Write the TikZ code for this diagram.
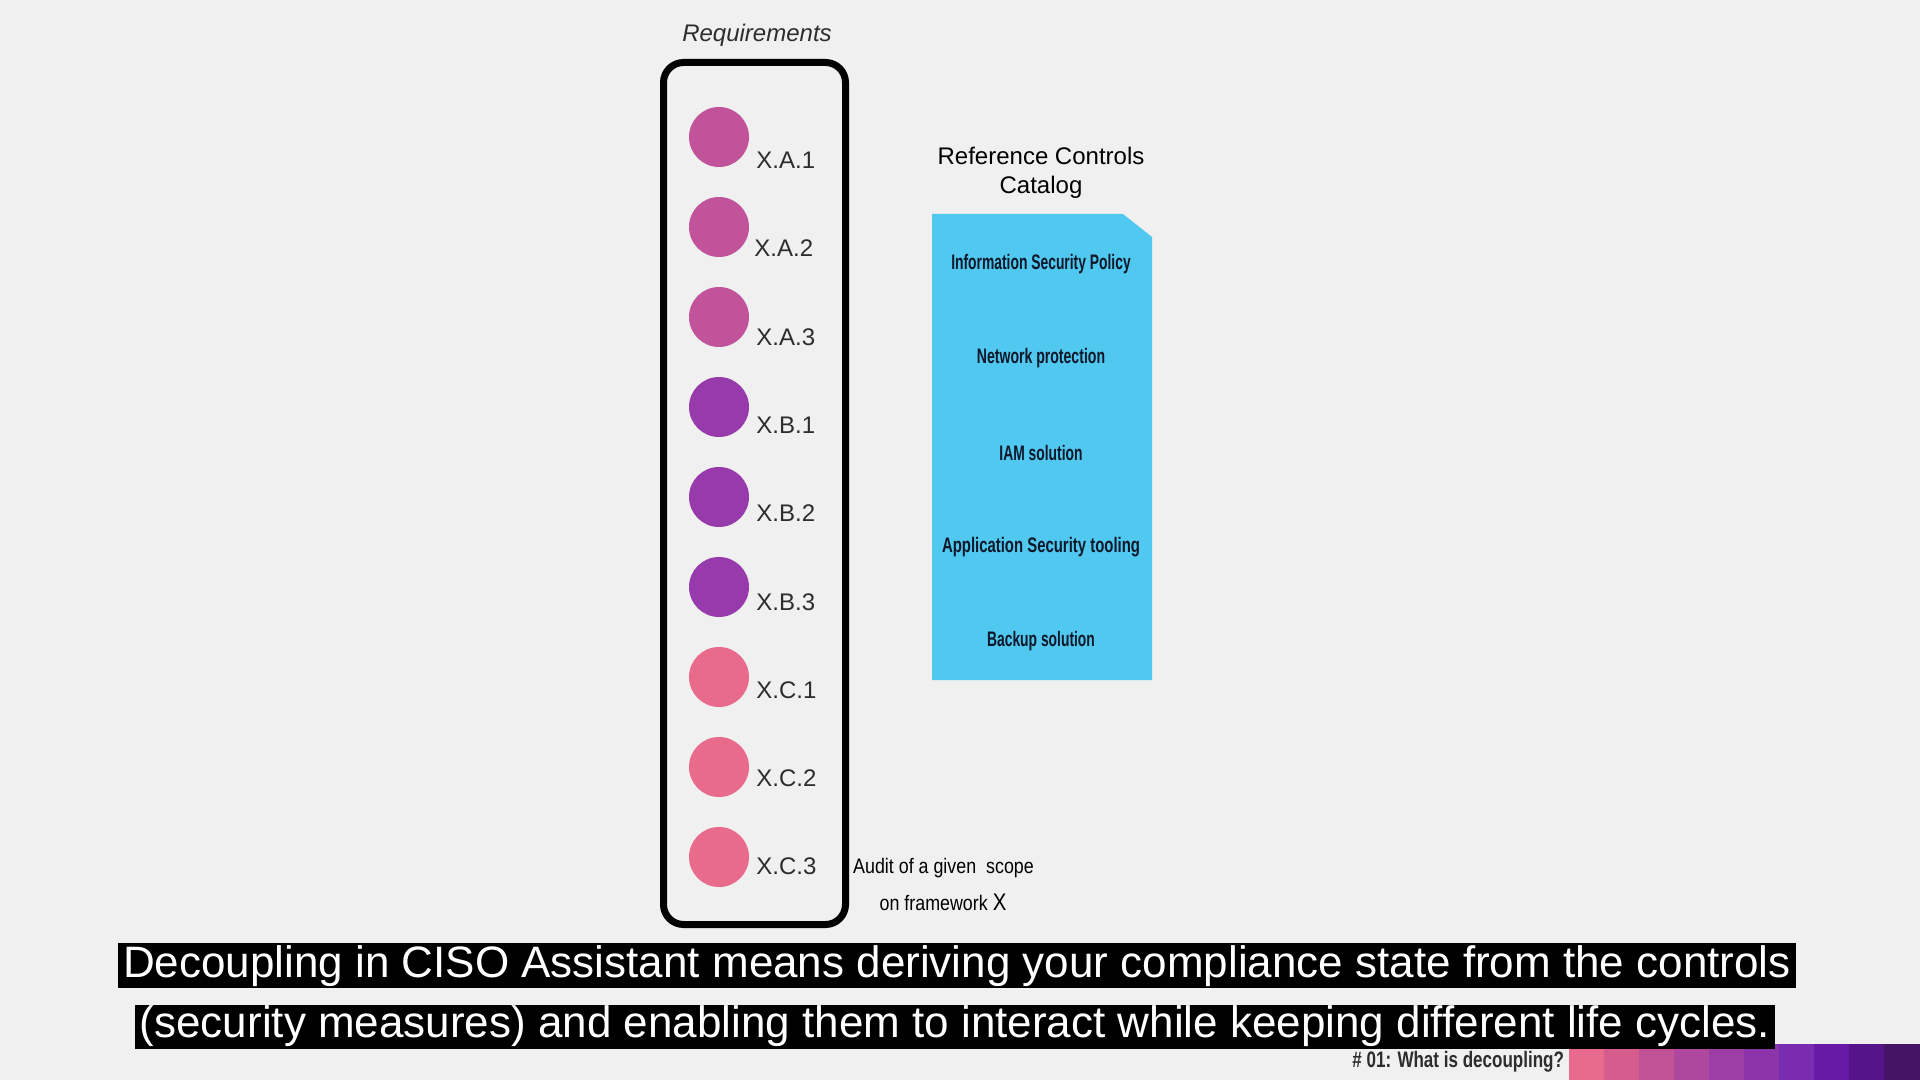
\documentclass[tikz,border=0pt]{standalone}
\usepackage{fontspec}
\setmainfont{Liberation Sans}
\usepackage{graphicx}
\definecolor{bg}{RGB}{240,240,240}
\definecolor{ca}{RGB}{193,83,154}
\definecolor{cb}{RGB}{151,58,171}
\definecolor{cc}{RGB}{233,107,140}
\definecolor{cat}{RGB}{80,200,239}
\definecolor{navy}{RGB}{15,24,42}
\definecolor{lblgray}{RGB}{45,45,45}
\definecolor{b1}{RGB}{232,106,140}
\definecolor{b2}{RGB}{214,92,142}
\definecolor{b3}{RGB}{193,82,150}
\definecolor{b4}{RGB}{174,72,158}
\definecolor{b5}{RGB}{156,62,166}
\definecolor{b6}{RGB}{140,52,170}
\definecolor{b7}{RGB}{122,44,176}
\definecolor{b8}{RGB}{102,26,166}
\definecolor{b9}{RGB}{86,20,138}
\definecolor{b10}{RGB}{70,20,100}
\newcommand{\cnd}[2]{\scalebox{#1}[1]{#2}}
\begin{document}
\begin{tikzpicture}[x=0.5pt,y=-0.5pt,
  req/.style={circle,inner sep=0pt,minimum size=30pt},
  lbl/.style={font=\fontsize{12}{14}\selectfont,text=lblgray,inner sep=0pt,anchor=base west},
  title/.style={font=\fontsize{12}{14}\selectfont,text=black,inner sep=0pt,anchor=base},
  catitem/.style={font=\fontsize{10.5}{12}\selectfont\bfseries,text=navy,inner sep=0pt,anchor=base},
  audit/.style={font=\fontsize{10.5}{12}\selectfont,text=black,inner sep=0pt,anchor=base},
  sub/.style={fill=black,text=white,font=\fontsize{22}{25}\selectfont,inner xsep=2.5pt,inner ysep=0pt,text height=17pt,text depth=5.5pt,anchor=base},
  seg/.style={inner sep=0pt,minimum width=17.6pt,minimum height=18pt,anchor=north west}
]
\useasboundingbox (0,0) rectangle (1920,1080);
\fill[bg] (0,0) rectangle (1920,1080);

% Requirements
\node[title,font=\fontsize{12}{14}\selectfont\itshape,text=lblgray] (reqtitle) at (757,42) {Requirements};
\node[draw,line width=3.5pt,rounded corners=10pt,minimum width=91pt,minimum height=431pt,inner sep=0pt] (reqbox) at (754.5,493.5) {};

\node[req,fill=ca] (ra1) at (719,137) {};
\node[req,fill=ca] (ra2) at (719,227) {};
\node[req,fill=ca] (ra3) at (719,317) {};
\node[req,fill=cb] (rb1) at (719,407) {};
\node[req,fill=cb] (rb2) at (719,497) {};
\node[req,fill=cb] (rb3) at (719,587) {};
\node[req,fill=cc] (rc1) at (719,677) {};
\node[req,fill=cc] (rc2) at (719,767) {};
\node[req,fill=cc] (rc3) at (719,857) {};

\node[lbl] (la1) at (756,168.5) {X.A.1};
\node[lbl] (la2) at (754,256.8) {X.A.2};
\node[lbl] (la3) at (756,345.1) {X.A.3};
\node[lbl] (lb1) at (756,433.4) {X.B.1};
\node[lbl] (lb2) at (756,521.7) {X.B.2};
\node[lbl] (lb3) at (756,610.0) {X.B.3};
\node[lbl] (lc1) at (756,698.3) {X.C.1};
\node[lbl] (lc2) at (756,786.6) {X.C.2};
\node[lbl] (lc3) at (756,874.9) {X.C.3};

% Catalog
\node[title] (cattitle1) at (1041,165) {Reference Controls};
\node[title] (cattitle2) at (1041,194) {Catalog};
\fill[cat] (932,214) -- (1123,214) -- (1152,237) -- (1152,680) -- (932,680) -- cycle;
\node[catitem] (c1) at (1041,270) {\cnd{0.66}{Information Security Policy}};
\node[catitem] (c2) at (1041,364) {\cnd{0.67}{Network protection}};
\node[catitem] (c3) at (1041,460) {\cnd{0.66}{IAM solution}};
\node[catitem] (c4) at (1041,552) {\cnd{0.71}{Application Security tooling}};
\node[catitem] (c5) at (1041,646) {\cnd{0.66}{Backup solution}};

% Audit text
\node[audit] (aud1) at (943.5,873) {\cnd{0.85}{Audit of a given\ \ scope}};
\node[audit] (aud2) at (943,910) {\cnd{0.85}{on framework {\fontsize{12}{14}\selectfont X}}};

% bottom right
\node[inner sep=0pt,anchor=base west,text=lblgray,font=\fontsize{11.2}{13}\selectfont\bfseries] (chap) at (1352,1067) {\cnd{0.76}{\# 01: What is decoupling?}};
\node[seg,fill=b1] (s1) at (1569,1044) {};
\node[seg,fill=b2] (s2) at (1604,1044) {};
\node[seg,fill=b3] (s3) at (1639,1044) {};
\node[seg,fill=b4] (s4) at (1674,1044) {};
\node[seg,fill=b5] (s5) at (1709,1044) {};
\node[seg,fill=b6] (s6) at (1744,1044) {};
\node[seg,fill=b7] (s7) at (1779,1044) {};
\node[seg,fill=b8] (s8) at (1814,1044) {};
\node[seg,fill=b9] (s9) at (1849,1044) {};
\node[seg,fill=b10] (s10) at (1884,1044) {};

% subtitles
\node[sub] (sub1) at (957,977) {Decoupling in CISO Assistant means deriving your compliance state from the controls};
\node[sub,text height=16pt,text depth=6pt] (sub2) at (955,1037) {(security measures) and enabling them to interact while keeping different life cycles.};
\end{tikzpicture}
\end{document}
